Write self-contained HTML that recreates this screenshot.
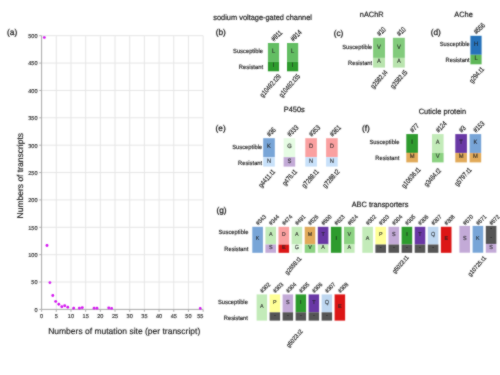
<!DOCTYPE html>
<html><head><meta charset="utf-8"><style>
html,body{margin:0;padding:0;background:#fff;}
svg{display:block;font-family:"Liberation Sans", sans-serif;text-rendering:geometricPrecision;}
</style></head><body>
<svg width="500" height="375" viewBox="0 0 500 375" fill="#222" stroke-linejoin="round">
<defs><filter id="bl" x="-5%" y="-5%" width="110%" height="110%"><feConvolveMatrix order="3" kernelMatrix="1 2 1 2 16 2 1 2 1" edgeMode="duplicate"/></filter></defs>
<rect width="500" height="375" fill="#fff"/>
<g filter="url(#bl)">
<path d="M56.28 35.70V309.40 M70.97 35.70V309.40 M85.66 35.70V309.40 M100.34 35.70V309.40 M115.03 35.70V309.40 M129.71 35.70V309.40 M144.39 35.70V309.40 M159.08 35.70V309.40 M173.76 35.70V309.40 M188.45 35.70V309.40 M203.13 35.70V309.40 M41.60 282.03H203.13 M41.60 254.66H203.13 M41.60 227.29H203.13 M41.60 199.92H203.13 M41.60 172.55H203.13 M41.60 145.18H203.13 M41.60 117.81H203.13 M41.60 90.44H203.13 M41.60 63.07H203.13 M41.60 35.70H203.13" stroke="#e6e6e6" stroke-width="1.0" fill="none"/>
<path d="M41.60 309.40v2.4 M56.28 309.40v2.4 M70.97 309.40v2.4 M85.66 309.40v2.4 M100.34 309.40v2.4 M115.03 309.40v2.4 M129.71 309.40v2.4 M144.39 309.40v2.4 M159.08 309.40v2.4 M173.76 309.40v2.4 M188.45 309.40v2.4 M203.13 309.40v2.4 M41.60 309.40h-2.4 M41.60 282.03h-2.4 M41.60 254.66h-2.4 M41.60 227.29h-2.4 M41.60 199.92h-2.4 M41.60 172.55h-2.4 M41.60 145.18h-2.4 M41.60 117.81h-2.4 M41.60 90.44h-2.4 M41.60 63.07h-2.4 M41.60 35.70h-2.4" stroke="#999" stroke-width="0.8" fill="none"/>
<path d="M41.60 35.70V309.40H203.13" stroke="#a8a8a8" stroke-width="1" fill="none"/>
<text font-size="5.6" text-anchor="end" transform="translate(37.60 311.80)" stroke="#333" stroke-width="0.16" fill="#333">0</text>
<text font-size="5.6" text-anchor="end" transform="translate(37.60 284.43)" stroke="#333" stroke-width="0.16" fill="#333">50</text>
<text font-size="5.6" text-anchor="end" transform="translate(37.60 257.06)" stroke="#333" stroke-width="0.16" fill="#333">100</text>
<text font-size="5.6" text-anchor="end" transform="translate(37.60 229.69)" stroke="#333" stroke-width="0.16" fill="#333">150</text>
<text font-size="5.6" text-anchor="end" transform="translate(37.60 202.32)" stroke="#333" stroke-width="0.16" fill="#333">200</text>
<text font-size="5.6" text-anchor="end" transform="translate(37.60 174.95)" stroke="#333" stroke-width="0.16" fill="#333">250</text>
<text font-size="5.6" text-anchor="end" transform="translate(37.60 147.58)" stroke="#333" stroke-width="0.16" fill="#333">300</text>
<text font-size="5.6" text-anchor="end" transform="translate(37.60 120.21)" stroke="#333" stroke-width="0.16" fill="#333">350</text>
<text font-size="5.6" text-anchor="end" transform="translate(37.60 92.84)" stroke="#333" stroke-width="0.16" fill="#333">400</text>
<text font-size="5.6" text-anchor="end" transform="translate(37.60 65.47)" stroke="#333" stroke-width="0.16" fill="#333">450</text>
<text font-size="5.6" text-anchor="end" transform="translate(37.60 38.10)" stroke="#333" stroke-width="0.16" fill="#333">500</text>
<text font-size="5.6" text-anchor="middle" transform="translate(41.60 317.80)" stroke="#333" stroke-width="0.16" fill="#333">0</text>
<text font-size="5.6" text-anchor="middle" transform="translate(56.28 317.80)" stroke="#333" stroke-width="0.16" fill="#333">5</text>
<text font-size="5.6" text-anchor="middle" transform="translate(70.97 317.80)" stroke="#333" stroke-width="0.16" fill="#333">10</text>
<text font-size="5.6" text-anchor="middle" transform="translate(85.66 317.80)" stroke="#333" stroke-width="0.16" fill="#333">15</text>
<text font-size="5.6" text-anchor="middle" transform="translate(100.34 317.80)" stroke="#333" stroke-width="0.16" fill="#333">20</text>
<text font-size="5.6" text-anchor="middle" transform="translate(115.03 317.80)" stroke="#333" stroke-width="0.16" fill="#333">25</text>
<text font-size="5.6" text-anchor="middle" transform="translate(129.71 317.80)" stroke="#333" stroke-width="0.16" fill="#333">30</text>
<text font-size="5.6" text-anchor="middle" transform="translate(144.39 317.80)" stroke="#333" stroke-width="0.16" fill="#333">35</text>
<text font-size="5.6" text-anchor="middle" transform="translate(159.08 317.80)" stroke="#333" stroke-width="0.16" fill="#333">40</text>
<text font-size="5.6" text-anchor="middle" transform="translate(173.76 317.80)" stroke="#333" stroke-width="0.16" fill="#333">45</text>
<text font-size="5.6" text-anchor="middle" transform="translate(188.45 317.80)" stroke="#333" stroke-width="0.16" fill="#333">50</text>
<text font-size="5.6" text-anchor="middle" transform="translate(200.33 317.80)" stroke="#333" stroke-width="0.16" fill="#333">55</text>
<circle cx="44.3" cy="37.4" r="1.45" fill="#d414f0"/>
<circle cx="47.0" cy="245.5" r="1.45" fill="#d414f0"/>
<circle cx="49.9" cy="282.6" r="1.45" fill="#d414f0"/>
<circle cx="52.8" cy="295.5" r="1.45" fill="#d414f0"/>
<circle cx="55.7" cy="301.5" r="1.45" fill="#d414f0"/>
<circle cx="58.7" cy="304.2" r="1.45" fill="#d414f0"/>
<circle cx="61.8" cy="306.8" r="1.45" fill="#d414f0"/>
<circle cx="64.7" cy="305.8" r="1.45" fill="#d414f0"/>
<circle cx="67.8" cy="307.3" r="1.45" fill="#d414f0"/>
<circle cx="73.6" cy="308.2" r="1.45" fill="#d414f0"/>
<circle cx="79.4" cy="308.2" r="1.45" fill="#d414f0"/>
<circle cx="82.3" cy="307.8" r="1.45" fill="#d414f0"/>
<circle cx="94.1" cy="308.2" r="1.45" fill="#d414f0"/>
<circle cx="97.0" cy="308.2" r="1.45" fill="#d414f0"/>
<circle cx="108.7" cy="308.0" r="1.45" fill="#d414f0"/>
<circle cx="111.6" cy="308.4" r="1.45" fill="#d414f0"/>
<circle cx="200.3" cy="308.4" r="1.45" fill="#d414f0"/>
<text font-size="8.5" text-anchor="middle" transform="translate(23.30 175.70) rotate(-90)" stroke="#222" stroke-width="0.16" fill="#222">Numbers of transcripts</text>
<text font-size="8.5" text-anchor="middle" transform="translate(124.20 334.00)" stroke="#222" stroke-width="0.16" fill="#222">Numbers of mutation site (per transcript)</text>
<text font-size="8.3" transform="translate(7.00 35.10)" stroke="#222" stroke-width="0.28" fill="#222">(a)</text>
<text font-size="7.4" text-anchor="middle" transform="translate(262.60 19.80) scale(1 1.04)" stroke="#222" stroke-width="0.2" fill="#222">sodium voltage-gated channel</text>
<text font-size="8.3" transform="translate(215.70 35.00)" stroke="#222" stroke-width="0.28" fill="#222">(b)</text>
<rect x="267.90" y="43.00" width="11.20" height="18.87" fill="#64be64"/>
<rect x="267.90" y="61.87" width="11.20" height="9.43" fill="#2d9b2d"/>
<text font-size="5.8" text-anchor="middle" transform="translate(273.50 53.09) scale(1 1.08)" stroke="#222" stroke-width="0.15" fill="#222">L</text>
<text font-size="5.8" text-anchor="middle" transform="translate(273.50 67.24) scale(1 1.08)" stroke="#222" stroke-width="0.15" fill="#222">I</text>
<text font-size="5.7" transform="translate(274.10 41.80) rotate(-45) scale(1 1.25)" stroke="#222" stroke-width="0.16" fill="#222">#911</text>
<text font-size="5.6" text-anchor="end" transform="translate(281.40 76.70) rotate(-48.5) scale(1 1.25)" stroke="#222" stroke-width="0.16" fill="#222">g10492.t29</text>
<rect x="287.00" y="43.00" width="11.20" height="18.87" fill="#64be64"/>
<rect x="287.00" y="61.87" width="11.20" height="9.43" fill="#2d9b2d"/>
<text font-size="5.8" text-anchor="middle" transform="translate(292.60 53.09) scale(1 1.08)" stroke="#222" stroke-width="0.15" fill="#222">L</text>
<text font-size="5.8" text-anchor="middle" transform="translate(292.60 67.24) scale(1 1.08)" stroke="#222" stroke-width="0.15" fill="#222">I</text>
<text font-size="5.7" transform="translate(293.20 41.80) rotate(-45) scale(1 1.25)" stroke="#222" stroke-width="0.16" fill="#222">#914</text>
<text font-size="5.6" text-anchor="end" transform="translate(300.50 76.70) rotate(-48.5) scale(1 1.25)" stroke="#222" stroke-width="0.16" fill="#222">g10492.t35</text>
<text font-size="5.8" text-anchor="end" transform="translate(263.00 52.98) scale(1 1.05)" stroke="#222" stroke-width="0.16" fill="#222">Susceptible</text>
<text font-size="5.8" text-anchor="end" transform="translate(263.00 68.61) scale(1 1.05)" stroke="#222" stroke-width="0.16" fill="#222">Resistant</text>
<text font-size="7.4" text-anchor="middle" transform="translate(371.70 16.50) scale(1 1.04)" stroke="#222" stroke-width="0.2" fill="#222">nAChR</text>
<text font-size="8.3" transform="translate(333.70 35.60)" stroke="#222" stroke-width="0.28" fill="#222">(c)</text>
<rect x="373.10" y="37.80" width="11.90" height="20.11" fill="#82cb7c"/>
<rect x="373.10" y="57.91" width="11.90" height="9.69" fill="#b9e4ae"/>
<text font-size="5.8" text-anchor="middle" transform="translate(379.05 48.51) scale(1 1.08)" stroke="#222" stroke-width="0.15" fill="#222">V</text>
<text font-size="5.8" text-anchor="middle" transform="translate(379.05 63.41) scale(1 1.08)" stroke="#222" stroke-width="0.15" fill="#222">A</text>
<text font-size="5.7" transform="translate(379.65 36.60) rotate(-45) scale(1 1.25)" stroke="#222" stroke-width="0.16" fill="#222">#10</text>
<text font-size="5.6" text-anchor="end" transform="translate(388.00 72.70) rotate(-48.5) scale(1 1.25)" stroke="#222" stroke-width="0.16" fill="#222">g2582.t4</text>
<rect x="392.90" y="37.80" width="11.90" height="20.11" fill="#82cb7c"/>
<rect x="392.90" y="57.91" width="11.90" height="9.69" fill="#b9e4ae"/>
<text font-size="5.8" text-anchor="middle" transform="translate(398.85 48.51) scale(1 1.08)" stroke="#222" stroke-width="0.15" fill="#222">V</text>
<text font-size="5.8" text-anchor="middle" transform="translate(398.85 63.41) scale(1 1.08)" stroke="#222" stroke-width="0.15" fill="#222">A</text>
<text font-size="5.7" transform="translate(399.45 36.60) rotate(-45) scale(1 1.25)" stroke="#222" stroke-width="0.16" fill="#222">#10</text>
<text font-size="5.6" text-anchor="end" transform="translate(407.80 72.70) rotate(-48.5) scale(1 1.25)" stroke="#222" stroke-width="0.16" fill="#222">g2582.t5</text>
<text font-size="5.8" text-anchor="end" transform="translate(372.20 48.88) scale(1 1.05)" stroke="#222" stroke-width="0.16" fill="#222">Susceptible</text>
<text font-size="5.8" text-anchor="end" transform="translate(372.20 64.91) scale(1 1.05)" stroke="#222" stroke-width="0.16" fill="#222">Resistant</text>
<text font-size="7.4" text-anchor="middle" transform="translate(463.50 16.50) scale(1 1.04)" stroke="#222" stroke-width="0.2" fill="#222">AChe</text>
<text font-size="8.3" transform="translate(430.70 35.30)" stroke="#222" stroke-width="0.28" fill="#222">(d)</text>
<rect x="470.40" y="35.80" width="11.20" height="19.00" fill="#2872ba"/>
<rect x="470.40" y="54.80" width="11.20" height="9.50" fill="#5fb758"/>
<text font-size="5.8" text-anchor="middle" transform="translate(476.00 45.96) scale(1 1.08)" stroke="#222" stroke-width="0.15" fill="#222">H</text>
<text font-size="5.8" text-anchor="middle" transform="translate(476.00 60.21) scale(1 1.08)" stroke="#222" stroke-width="0.15" fill="#222">L</text>
<text font-size="5.7" transform="translate(476.60 34.60) rotate(-45) scale(1 1.25)" stroke="#222" stroke-width="0.16" fill="#222">#556</text>
<text font-size="5.6" text-anchor="end" transform="translate(484.50 69.40) rotate(-48.5) scale(1 1.25)" stroke="#222" stroke-width="0.16" fill="#222">g294.t1</text>
<text font-size="5.8" text-anchor="end" transform="translate(469.70 46.28) scale(1 1.05)" stroke="#222" stroke-width="0.16" fill="#222">Susceptible</text>
<text font-size="5.8" text-anchor="end" transform="translate(469.70 62.41) scale(1 1.05)" stroke="#222" stroke-width="0.16" fill="#222">Resistant</text>
<text font-size="7.4" text-anchor="middle" transform="translate(294.30 112.00) scale(1 1.04)" stroke="#222" stroke-width="0.2" fill="#222">P450s</text>
<text font-size="8.3" transform="translate(215.60 130.80)" stroke="#222" stroke-width="0.28" fill="#222">(e)</text>
<rect x="263.20" y="138.20" width="11.60" height="18.93" fill="#78a5d7"/>
<rect x="263.20" y="157.13" width="11.60" height="9.47" fill="#c8e1fa"/>
<text font-size="5.8" text-anchor="middle" transform="translate(269.00 148.32) scale(1 1.08)" stroke="#222" stroke-width="0.15" fill="#222">K</text>
<text font-size="5.8" text-anchor="middle" transform="translate(269.00 162.52) scale(1 1.08)" stroke="#222" stroke-width="0.15" fill="#222">N</text>
<text font-size="5.7" transform="translate(269.60 137.00) rotate(-45) scale(1 1.25)" stroke="#222" stroke-width="0.16" fill="#222">#36</text>
<text font-size="5.6" text-anchor="end" transform="translate(275.60 172.00) rotate(-48.5) scale(1 1.25)" stroke="#222" stroke-width="0.16" fill="#222">g4411.t1</text>
<rect x="283.60" y="138.20" width="11.60" height="18.93" fill="#e6fce4"/>
<rect x="283.60" y="157.13" width="11.60" height="9.47" fill="#c3aad7"/>
<text font-size="5.8" text-anchor="middle" transform="translate(289.40 148.32) scale(1 1.08)" stroke="#222" stroke-width="0.15" fill="#222">G</text>
<text font-size="5.8" text-anchor="middle" transform="translate(289.40 162.52) scale(1 1.08)" stroke="#222" stroke-width="0.15" fill="#222">S</text>
<text font-size="5.7" transform="translate(290.00 137.00) rotate(-45) scale(1 1.25)" stroke="#222" stroke-width="0.16" fill="#222">#333</text>
<text font-size="5.6" text-anchor="end" transform="translate(297.50 172.00) rotate(-48.5) scale(1 1.25)" stroke="#222" stroke-width="0.16" fill="#222">g476.t1</text>
<rect x="305.30" y="138.20" width="11.60" height="18.93" fill="#faa0a0"/>
<rect x="305.30" y="157.13" width="11.60" height="9.47" fill="#c8e1fa"/>
<text font-size="5.8" text-anchor="middle" transform="translate(311.10 148.32) scale(1 1.08)" stroke="#222" stroke-width="0.15" fill="#222">D</text>
<text font-size="5.8" text-anchor="middle" transform="translate(311.10 162.52) scale(1 1.08)" stroke="#222" stroke-width="0.15" fill="#222">N</text>
<text font-size="5.7" transform="translate(311.70 137.00) rotate(-45) scale(1 1.25)" stroke="#222" stroke-width="0.16" fill="#222">#353</text>
<text font-size="5.6" text-anchor="end" transform="translate(319.20 172.00) rotate(-48.5) scale(1 1.25)" stroke="#222" stroke-width="0.16" fill="#222">g7288.t1</text>
<rect x="326.10" y="138.20" width="11.60" height="18.93" fill="#faa0a0"/>
<rect x="326.10" y="157.13" width="11.60" height="9.47" fill="#c8e1fa"/>
<text font-size="5.8" text-anchor="middle" transform="translate(331.90 148.32) scale(1 1.08)" stroke="#222" stroke-width="0.15" fill="#222">D</text>
<text font-size="5.8" text-anchor="middle" transform="translate(331.90 162.52) scale(1 1.08)" stroke="#222" stroke-width="0.15" fill="#222">N</text>
<text font-size="5.7" transform="translate(332.50 137.00) rotate(-45) scale(1 1.25)" stroke="#222" stroke-width="0.16" fill="#222">#361</text>
<text font-size="5.6" text-anchor="end" transform="translate(340.00 172.00) rotate(-48.5) scale(1 1.25)" stroke="#222" stroke-width="0.16" fill="#222">g7288.t2</text>
<text font-size="5.8" text-anchor="end" transform="translate(262.20 148.57) scale(1 1.05)" stroke="#222" stroke-width="0.16" fill="#222">Susceptible</text>
<text font-size="5.8" text-anchor="end" transform="translate(262.20 164.61) scale(1 1.05)" stroke="#222" stroke-width="0.16" fill="#222">Resistant</text>
<text font-size="7.4" text-anchor="middle" transform="translate(442.40 114.30) scale(1 1.04)" stroke="#222" stroke-width="0.2" fill="#222">Cuticle protein</text>
<text font-size="8.3" transform="translate(362.00 130.70)" stroke="#222" stroke-width="0.28" fill="#222">(f)</text>
<rect x="406.30" y="134.10" width="11.60" height="18.87" fill="#2d9b2d"/>
<rect x="406.30" y="152.97" width="11.60" height="9.43" fill="#e1aa5a"/>
<text font-size="5.8" text-anchor="middle" transform="translate(412.10 144.19) scale(1 1.08)" stroke="#222" stroke-width="0.15" fill="#222">I</text>
<text font-size="5.8" text-anchor="middle" transform="translate(412.10 158.34) scale(1 1.08)" stroke="#222" stroke-width="0.15" fill="#222">M</text>
<text font-size="5.7" transform="translate(412.70 132.90) rotate(-45) scale(1 1.25)" stroke="#222" stroke-width="0.16" fill="#222">#77</text>
<rect x="432.00" y="134.10" width="11.60" height="18.87" fill="#c3ebb9"/>
<rect x="432.00" y="152.97" width="11.60" height="9.43" fill="#8cd282"/>
<text font-size="5.8" text-anchor="middle" transform="translate(437.80 144.19) scale(1 1.08)" stroke="#222" stroke-width="0.15" fill="#222">A</text>
<text font-size="5.8" text-anchor="middle" transform="translate(437.80 158.34) scale(1 1.08)" stroke="#222" stroke-width="0.15" fill="#222">V</text>
<text font-size="5.7" transform="translate(438.40 132.90) rotate(-45) scale(1 1.25)" stroke="#222" stroke-width="0.16" fill="#222">#124</text>
<rect x="455.30" y="134.10" width="11.60" height="18.87" fill="#6937a5"/>
<rect x="455.30" y="152.97" width="11.60" height="9.43" fill="#e1aa5a"/>
<text font-size="5.8" text-anchor="middle" transform="translate(461.10 144.19) scale(1 1.08)" stroke="#222" stroke-width="0.15" fill="#222">T</text>
<text font-size="5.8" text-anchor="middle" transform="translate(461.10 158.34) scale(1 1.08)" stroke="#222" stroke-width="0.15" fill="#222">M</text>
<text font-size="5.7" transform="translate(461.70 132.90) rotate(-45) scale(1 1.25)" stroke="#222" stroke-width="0.16" fill="#222">#3</text>
<rect x="469.60" y="134.10" width="11.60" height="18.87" fill="#78a5d7"/>
<rect x="469.60" y="152.97" width="11.60" height="9.43" fill="#e1aa5a"/>
<text font-size="5.8" text-anchor="middle" transform="translate(475.40 144.19) scale(1 1.08)" stroke="#222" stroke-width="0.15" fill="#222">K</text>
<text font-size="5.8" text-anchor="middle" transform="translate(475.40 158.34) scale(1 1.08)" stroke="#222" stroke-width="0.15" fill="#222">M</text>
<text font-size="5.7" transform="translate(476.00 132.90) rotate(-45) scale(1 1.25)" stroke="#222" stroke-width="0.16" fill="#222">#153</text>
<text font-size="5.6" text-anchor="end" transform="translate(421.00 169.80) rotate(-48.5) scale(1 1.25)" stroke="#222" stroke-width="0.16" fill="#222">g10636.t1</text>
<text font-size="5.6" text-anchor="end" transform="translate(441.50 170.80) rotate(-48.5) scale(1 1.25)" stroke="#222" stroke-width="0.16" fill="#222">g3464.t2</text>
<text font-size="5.6" text-anchor="end" transform="translate(472.00 170.20) rotate(-48.5) scale(1 1.25)" stroke="#222" stroke-width="0.16" fill="#222">g5797.t1</text>
<text font-size="5.8" text-anchor="end" transform="translate(399.40 144.07) scale(1 1.05)" stroke="#222" stroke-width="0.16" fill="#222">Susceptible</text>
<text font-size="5.8" text-anchor="end" transform="translate(399.40 160.11) scale(1 1.05)" stroke="#222" stroke-width="0.16" fill="#222">Resistant</text>
<text font-size="7.4" text-anchor="middle" transform="translate(380.00 206.70) scale(1 1.04)" stroke="#222" stroke-width="0.2" fill="#222">ABC transporters</text>
<text font-size="8.3" transform="translate(216.40 213.00)" stroke="#222" stroke-width="0.28" fill="#222">(g)</text>
<rect x="252.30" y="226.80" width="10.60" height="26.00" fill="#78a5d7"/>
<text font-size="5.4" text-anchor="middle" transform="translate(257.60 240.30) scale(1 1.08)" stroke="#222" stroke-width="0.15" fill="#222">K</text>
<text font-size="5.3" transform="translate(258.20 225.60) rotate(-45) scale(1 1.12)" stroke="#222" stroke-width="0.16" fill="#222">#343</text>
<rect x="265.40" y="226.80" width="10.60" height="17.68" fill="#c3ebb9"/>
<rect x="265.40" y="244.48" width="10.60" height="8.32" fill="#c3aad7"/>
<text font-size="5.4" text-anchor="middle" transform="translate(270.70 236.14) scale(1 1.08)" stroke="#222" stroke-width="0.15" fill="#222">A</text>
<text font-size="5.4" text-anchor="middle" transform="translate(270.70 249.14) scale(1 1.08)" stroke="#222" stroke-width="0.15" fill="#222">S</text>
<text font-size="5.3" transform="translate(271.30 225.60) rotate(-45) scale(1 1.12)" stroke="#222" stroke-width="0.16" fill="#222">#344</text>
<rect x="278.50" y="226.80" width="10.60" height="17.68" fill="#faa0a0"/>
<rect x="278.50" y="244.48" width="10.60" height="8.32" fill="#dc1414"/>
<text font-size="5.4" text-anchor="middle" transform="translate(283.80 236.14) scale(1 1.08)" stroke="#222" stroke-width="0.15" fill="#222">D</text>
<text font-size="5.4" text-anchor="middle" transform="translate(283.80 249.14) scale(1 1.08)" stroke="#222" stroke-width="0.15" fill="#222">E</text>
<text font-size="5.3" transform="translate(284.40 225.60) rotate(-45) scale(1 1.12)" stroke="#222" stroke-width="0.16" fill="#222">#474</text>
<rect x="291.60" y="226.80" width="10.60" height="17.68" fill="#c3ebb9"/>
<rect x="291.60" y="244.48" width="10.60" height="8.32" fill="#e6fce4"/>
<text font-size="5.4" text-anchor="middle" transform="translate(296.90 236.14) scale(1 1.08)" stroke="#222" stroke-width="0.15" fill="#222">A</text>
<text font-size="5.4" text-anchor="middle" transform="translate(296.90 249.14) scale(1 1.08)" stroke="#222" stroke-width="0.15" fill="#222">G</text>
<text font-size="5.3" transform="translate(297.50 225.60) rotate(-45) scale(1 1.12)" stroke="#222" stroke-width="0.16" fill="#222">#491</text>
<rect x="304.70" y="226.80" width="10.60" height="17.68" fill="#e1aa5a"/>
<rect x="304.70" y="244.48" width="10.60" height="8.32" fill="#8cd282"/>
<text font-size="5.4" text-anchor="middle" transform="translate(310.00 236.14) scale(1 1.08)" stroke="#222" stroke-width="0.15" fill="#222">M</text>
<text font-size="5.4" text-anchor="middle" transform="translate(310.00 249.14) scale(1 1.08)" stroke="#222" stroke-width="0.15" fill="#222">V</text>
<text font-size="5.3" transform="translate(310.60 225.60) rotate(-45) scale(1 1.12)" stroke="#222" stroke-width="0.16" fill="#222">#526</text>
<rect x="317.80" y="226.80" width="10.60" height="17.68" fill="#6937a5"/>
<rect x="317.80" y="244.48" width="10.60" height="8.32" fill="#c3ebb9"/>
<text font-size="5.4" text-anchor="middle" transform="translate(323.10 236.14) scale(1 1.08)" stroke="#222" stroke-width="0.15" fill="#222">T</text>
<text font-size="5.4" text-anchor="middle" transform="translate(323.10 249.14) scale(1 1.08)" stroke="#222" stroke-width="0.15" fill="#222">A</text>
<text font-size="5.3" transform="translate(323.70 225.60) rotate(-45) scale(1 1.12)" stroke="#222" stroke-width="0.16" fill="#222">#600</text>
<rect x="330.90" y="226.80" width="10.60" height="26.00" fill="#2d9b2d"/>
<text font-size="5.4" text-anchor="middle" transform="translate(336.20 240.30) scale(1 1.08)" stroke="#222" stroke-width="0.15" fill="#222">I</text>
<text font-size="5.3" transform="translate(336.80 225.60) rotate(-45) scale(1 1.12)" stroke="#222" stroke-width="0.16" fill="#222">#623</text>
<rect x="344.00" y="226.80" width="10.60" height="17.68" fill="#8cd282"/>
<rect x="344.00" y="244.48" width="10.60" height="8.32" fill="#c3ebb9"/>
<text font-size="5.4" text-anchor="middle" transform="translate(349.30 236.14) scale(1 1.08)" stroke="#222" stroke-width="0.15" fill="#222">V</text>
<text font-size="5.4" text-anchor="middle" transform="translate(349.30 249.14) scale(1 1.08)" stroke="#222" stroke-width="0.15" fill="#222">A</text>
<text font-size="5.3" transform="translate(349.90 225.60) rotate(-45) scale(1 1.12)" stroke="#222" stroke-width="0.16" fill="#222">#624</text>
<rect x="362.30" y="226.80" width="10.60" height="26.00" fill="#c3ebb9"/>
<text font-size="5.4" text-anchor="middle" transform="translate(367.60 240.30) scale(1 1.08)" stroke="#222" stroke-width="0.15" fill="#222">A</text>
<text font-size="5.3" transform="translate(368.20 225.60) rotate(-45) scale(1 1.12)" stroke="#222" stroke-width="0.16" fill="#222">#302</text>
<rect x="375.40" y="226.80" width="10.60" height="17.68" fill="#ffff96"/>
<rect x="375.40" y="244.48" width="10.60" height="8.32" fill="#555555"/>
<text font-size="5.4" text-anchor="middle" transform="translate(380.70 236.14) scale(1 1.08)" stroke="#222" stroke-width="0.15" fill="#222">P</text>
<text font-size="5.4" text-anchor="middle" transform="translate(380.70 249.14) scale(1 1.08)" stroke="#222" stroke-width="0.15" fill="#222">-</text>
<text font-size="5.3" transform="translate(381.30 225.60) rotate(-45) scale(1 1.12)" stroke="#222" stroke-width="0.16" fill="#222">#303</text>
<rect x="388.50" y="226.80" width="10.60" height="17.68" fill="#c3aad7"/>
<rect x="388.50" y="244.48" width="10.60" height="8.32" fill="#555555"/>
<text font-size="5.4" text-anchor="middle" transform="translate(393.80 236.14) scale(1 1.08)" stroke="#222" stroke-width="0.15" fill="#222">S</text>
<text font-size="5.4" text-anchor="middle" transform="translate(393.80 249.14) scale(1 1.08)" stroke="#222" stroke-width="0.15" fill="#222">-</text>
<text font-size="5.3" transform="translate(394.40 225.60) rotate(-45) scale(1 1.12)" stroke="#222" stroke-width="0.16" fill="#222">#304</text>
<rect x="401.60" y="226.80" width="10.60" height="17.68" fill="#2d9b2d"/>
<rect x="401.60" y="244.48" width="10.60" height="8.32" fill="#555555"/>
<text font-size="5.4" text-anchor="middle" transform="translate(406.90 236.14) scale(1 1.08)" stroke="#222" stroke-width="0.15" fill="#222">I</text>
<text font-size="5.4" text-anchor="middle" transform="translate(406.90 249.14) scale(1 1.08)" stroke="#222" stroke-width="0.15" fill="#222">-</text>
<text font-size="5.3" transform="translate(407.50 225.60) rotate(-45) scale(1 1.12)" stroke="#222" stroke-width="0.16" fill="#222">#305</text>
<rect x="414.70" y="226.80" width="10.60" height="17.68" fill="#6937a5"/>
<rect x="414.70" y="244.48" width="10.60" height="8.32" fill="#555555"/>
<text font-size="5.4" text-anchor="middle" transform="translate(420.00 236.14) scale(1 1.08)" stroke="#222" stroke-width="0.15" fill="#222">T</text>
<text font-size="5.4" text-anchor="middle" transform="translate(420.00 249.14) scale(1 1.08)" stroke="#222" stroke-width="0.15" fill="#222">-</text>
<text font-size="5.3" transform="translate(420.60 225.60) rotate(-45) scale(1 1.12)" stroke="#222" stroke-width="0.16" fill="#222">#306</text>
<rect x="427.80" y="226.80" width="10.60" height="17.68" fill="#bed7f0"/>
<rect x="427.80" y="244.48" width="10.60" height="8.32" fill="#555555"/>
<text font-size="5.4" text-anchor="middle" transform="translate(433.10 236.14) scale(1 1.08)" stroke="#222" stroke-width="0.15" fill="#222">Q</text>
<text font-size="5.4" text-anchor="middle" transform="translate(433.10 249.14) scale(1 1.08)" stroke="#222" stroke-width="0.15" fill="#222">-</text>
<text font-size="5.3" transform="translate(433.70 225.60) rotate(-45) scale(1 1.12)" stroke="#222" stroke-width="0.16" fill="#222">#307</text>
<rect x="440.90" y="226.80" width="10.60" height="26.00" fill="#dc1414"/>
<text font-size="5.4" text-anchor="middle" transform="translate(446.20 240.30) scale(1 1.08)" stroke="#222" stroke-width="0.15" fill="#222">E</text>
<text font-size="5.3" transform="translate(446.80 225.60) rotate(-45) scale(1 1.12)" stroke="#222" stroke-width="0.16" fill="#222">#308</text>
<rect x="459.40" y="225.90" width="10.60" height="26.80" fill="#c3aad7"/>
<text font-size="5.4" text-anchor="middle" transform="translate(464.70 239.80) scale(1 1.08)" stroke="#222" stroke-width="0.15" fill="#222">S</text>
<text font-size="5.3" transform="translate(465.30 225.60) rotate(-45) scale(1 1.12)" stroke="#222" stroke-width="0.16" fill="#222">#670</text>
<rect x="472.60" y="225.90" width="10.60" height="26.80" fill="#78a5d7"/>
<text font-size="5.4" text-anchor="middle" transform="translate(477.90 239.80) scale(1 1.08)" stroke="#222" stroke-width="0.15" fill="#222">K</text>
<text font-size="5.3" transform="translate(478.50 225.60) rotate(-45) scale(1 1.12)" stroke="#222" stroke-width="0.16" fill="#222">#671</text>
<rect x="485.80" y="225.90" width="10.60" height="18.10" fill="#555555"/>
<rect x="485.80" y="244.00" width="10.60" height="8.70" fill="#c3aad7"/>
<text font-size="5.4" text-anchor="middle" transform="translate(491.10 230.00) scale(1 1.08)" stroke="#222" stroke-width="0.15" fill="#222">-</text>
<text font-size="5.4" text-anchor="middle" transform="translate(491.10 238.90) scale(1 1.08)" stroke="#222" stroke-width="0.15" fill="#222">-</text>
<text font-size="5.4" text-anchor="middle" transform="translate(491.10 248.85) scale(1 1.08)" stroke="#222" stroke-width="0.15" fill="#222">S</text>
<text font-size="5.3" transform="translate(491.70 225.60) rotate(-45) scale(1 1.12)" stroke="#222" stroke-width="0.16" fill="#222">#672</text>
<text font-size="5.5" text-anchor="end" transform="translate(301.80 258.90) rotate(-48.5) scale(1 1.1)" stroke="#222" stroke-width="0.16" fill="#222">g2658.t1</text>
<text font-size="5.5" text-anchor="end" transform="translate(409.10 257.80) rotate(-48.5) scale(1 1.1)" stroke="#222" stroke-width="0.16" fill="#222">g5023.t1</text>
<text font-size="5.5" text-anchor="end" transform="translate(486.60 258.30) rotate(-48.5) scale(1 1.1)" stroke="#222" stroke-width="0.16" fill="#222">g10725.t1</text>
<text font-size="5.8" text-anchor="end" transform="translate(248.40 234.47) scale(1 1.05)" stroke="#222" stroke-width="0.16" fill="#222">Susceptible</text>
<text font-size="5.8" text-anchor="end" transform="translate(248.40 250.51) scale(1 1.05)" stroke="#222" stroke-width="0.16" fill="#222">Resistant</text>
<rect x="256.60" y="294.40" width="10.50" height="26.20" fill="#c3ebb9"/>
<text font-size="5.4" text-anchor="middle" transform="translate(261.85 308.00) scale(1 1.08)" stroke="#222" stroke-width="0.15" fill="#222">A</text>
<text font-size="5.3" transform="translate(262.45 293.20) rotate(-45) scale(1 1.12)" stroke="#222" stroke-width="0.16" fill="#222">#302</text>
<rect x="269.60" y="294.40" width="10.50" height="17.82" fill="#ffff96"/>
<rect x="269.60" y="312.22" width="10.50" height="8.38" fill="#555555"/>
<text font-size="5.4" text-anchor="middle" transform="translate(274.85 303.81) scale(1 1.08)" stroke="#222" stroke-width="0.15" fill="#222">P</text>
<text font-size="5.4" text-anchor="middle" transform="translate(274.85 316.91) scale(1 1.08)" stroke="#222" stroke-width="0.15" fill="#222">-</text>
<text font-size="5.3" transform="translate(275.45 293.20) rotate(-45) scale(1 1.12)" stroke="#222" stroke-width="0.16" fill="#222">#303</text>
<rect x="282.60" y="294.40" width="10.50" height="17.82" fill="#c3aad7"/>
<rect x="282.60" y="312.22" width="10.50" height="8.38" fill="#555555"/>
<text font-size="5.4" text-anchor="middle" transform="translate(287.85 303.81) scale(1 1.08)" stroke="#222" stroke-width="0.15" fill="#222">S</text>
<text font-size="5.4" text-anchor="middle" transform="translate(287.85 316.91) scale(1 1.08)" stroke="#222" stroke-width="0.15" fill="#222">-</text>
<text font-size="5.3" transform="translate(288.45 293.20) rotate(-45) scale(1 1.12)" stroke="#222" stroke-width="0.16" fill="#222">#304</text>
<rect x="295.60" y="294.40" width="10.50" height="17.82" fill="#2d9b2d"/>
<rect x="295.60" y="312.22" width="10.50" height="8.38" fill="#555555"/>
<text font-size="5.4" text-anchor="middle" transform="translate(300.85 303.81) scale(1 1.08)" stroke="#222" stroke-width="0.15" fill="#222">I</text>
<text font-size="5.4" text-anchor="middle" transform="translate(300.85 316.91) scale(1 1.08)" stroke="#222" stroke-width="0.15" fill="#222">-</text>
<text font-size="5.3" transform="translate(301.45 293.20) rotate(-45) scale(1 1.12)" stroke="#222" stroke-width="0.16" fill="#222">#305</text>
<rect x="308.60" y="294.40" width="10.50" height="17.82" fill="#6937a5"/>
<rect x="308.60" y="312.22" width="10.50" height="8.38" fill="#555555"/>
<text font-size="5.4" text-anchor="middle" transform="translate(313.85 303.81) scale(1 1.08)" stroke="#222" stroke-width="0.15" fill="#222">T</text>
<text font-size="5.4" text-anchor="middle" transform="translate(313.85 316.91) scale(1 1.08)" stroke="#222" stroke-width="0.15" fill="#222">-</text>
<text font-size="5.3" transform="translate(314.45 293.20) rotate(-45) scale(1 1.12)" stroke="#222" stroke-width="0.16" fill="#222">#306</text>
<rect x="321.60" y="294.40" width="10.50" height="17.82" fill="#bed7f0"/>
<rect x="321.60" y="312.22" width="10.50" height="8.38" fill="#555555"/>
<text font-size="5.4" text-anchor="middle" transform="translate(326.85 303.81) scale(1 1.08)" stroke="#222" stroke-width="0.15" fill="#222">Q</text>
<text font-size="5.4" text-anchor="middle" transform="translate(326.85 316.91) scale(1 1.08)" stroke="#222" stroke-width="0.15" fill="#222">-</text>
<text font-size="5.3" transform="translate(327.45 293.20) rotate(-45) scale(1 1.12)" stroke="#222" stroke-width="0.16" fill="#222">#307</text>
<rect x="334.60" y="294.40" width="10.50" height="26.20" fill="#dc1414"/>
<text font-size="5.4" text-anchor="middle" transform="translate(339.85 308.00) scale(1 1.08)" stroke="#222" stroke-width="0.15" fill="#222">E</text>
<text font-size="5.3" transform="translate(340.45 293.20) rotate(-45) scale(1 1.12)" stroke="#222" stroke-width="0.16" fill="#222">#308</text>
<text font-size="5.5" text-anchor="end" transform="translate(303.10 331.70) rotate(-48.5) scale(1 1.1)" stroke="#222" stroke-width="0.16" fill="#222">g5023.t2</text>
<text font-size="5.8" text-anchor="end" transform="translate(247.90 304.27) scale(1 1.05)" stroke="#222" stroke-width="0.16" fill="#222">Susceptible</text>
<text font-size="5.8" text-anchor="end" transform="translate(247.90 320.20) scale(1 1.05)" stroke="#222" stroke-width="0.16" fill="#222">Resistant</text>
</g>
</svg>
</body></html>
